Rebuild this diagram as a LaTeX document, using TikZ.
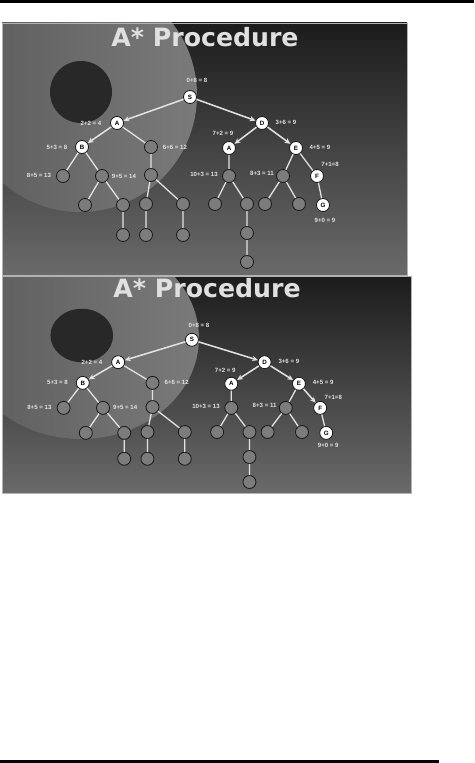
\documentclass[tikz,border=0pt]{standalone}
\usepackage{fontspec}
\setmainfont{Liberation Sans}
\newfontfamily\titlefont{DejaVu Sans}
\usetikzlibrary{arrows.meta}
\definecolor{SlideTop}{RGB}{28,28,28}
\definecolor{SlideLow}{RGB}{106,106,106}
\definecolor{DiscLeft}{RGB}{92,92,92}
\definecolor{DiscRight}{RGB}{122,122,122}
\definecolor{HoleGray}{RGB}{40,40,40}
\definecolor{LineWhite}{RGB}{226,226,226}
\definecolor{NodeGray}{RGB}{124,124,124}
\definecolor{RimDark}{RGB}{25,25,25}
\tikzset{
  wnode/.style={circle,draw=RimDark,fill=white,line width=0.7pt,minimum size=0.39cm,inner sep=0pt,font=\fontsize{5.3}{5.3}\selectfont\bfseries},
  gnode/.style={circle,draw=RimDark,fill=NodeGray,line width=0.7pt,minimum size=0.39cm,inner sep=0pt},
  lbl/.style={text=LineWhite,inner sep=0pt,font=\fontsize{5.2}{5.2}\selectfont\bfseries},
  ttl/.style={text=white!88!black,inner sep=0pt,font=\titlefont\bfseries\fontsize{21.5}{22}\selectfont},
  edge/.style={LineWhite,line width=1.1pt},
  arr/.style={-{Stealth[length=5pt,width=4.5pt]},LineWhite,line width=1.3pt},
}
% one slide: #1 = height, #2 = style of the E--F connector
\newcommand{\astarslide}[2]{%
  \begin{scope}
    \clip (0,0) rectangle (405,#1);
    \shade[top color=SlideTop,bottom color=SlideLow] (0,0) rectangle (405,#1);
    \shade[left color=DiscLeft,right color=DiscRight] (78,72) circle (117);
    \fill[HoleGray] (79,69) circle (31);
  \end{scope}
  \draw[black!30,line width=0.6pt] (0,0) rectangle (405,#1);
  \node[ttl] (title) at (203,14) {A* Procedure};
  % tree
  \node[wnode] (s)  at (188,74)  {S};
  \node[wnode] (a)  at (115,100) {A};
  \node[wnode] (d)  at (260,100) {D};
  \node[wnode] (b)  at (80,124)  {B};
  \node[gnode] (ag) at (149,124) {};
  \node[wnode] (da) at (227,125) {A};
  \node[wnode] (e)  at (294,125) {E};
  \node[gnode] (bl)  at (61,153)  {};
  \node[gnode] (br)  at (100,153) {};
  \node[gnode] (agc) at (149,152) {};
  \node[gnode] (dac) at (227,153) {};
  \node[gnode] (eg)  at (281,153) {};
  \node[wnode] (f)   at (315,153) {F};
  \node[gnode] (brl) at (83,182)  {};
  \node[gnode] (brr) at (121,182) {};
  \node[gnode] (agl) at (144,181) {};
  \node[gnode] (agr) at (181,181) {};
  \node[gnode] (dal) at (213,181) {};
  \node[gnode] (dar) at (245,181) {};
  \node[gnode] (egl) at (263,181) {};
  \node[gnode] (egr) at (297,181) {};
  \node[wnode] (g)   at (321,182) {G};
  \node[gnode] (brrc)  at (121,212) {};
  \node[gnode] (aglc)  at (144,212) {};
  \node[gnode] (agrc)  at (181,212) {};
  \node[gnode] (darc)  at (245,210) {};
  \node[gnode] (darcc) at (245,239) {};
  % f-values
  \node[lbl] (ls)  at (195,57)  {0+8 = 8};
  \node[lbl] (la)  at (89,100)  {2+2 = 4};
  \node[lbl] (ld)  at (284,99)  {3+6 = 9};
  \node[lbl] (lb)  at (55,124)  {5+3 = 8};
  \node[lbl] (lag) at (173,124) {6+6 = 12};
  \node[lbl] (lda) at (221,110) {7+2 = 9};
  \node[lbl] (le)  at (318,124) {4+5 = 9};
  \node[lbl] (lbl) at (37,152)  {8+5 = 13};
  \node[lbl] (lbr) at (122,153) {9+5 = 14};
  \node[lbl] (ldac) at (202,151) {10+3 = 13};
  \node[lbl] (leg) at (260,150) {8+3 = 11};
  \node[lbl] (lf)  at (328,141) {7+1=8};
  \node[lbl] (lg)  at (323,197) {9+0 = 9};
  % connectors
  \draw[arr] (s)--(a);
  \draw[arr] (s)--(d);
  \draw[arr] (a)--(b);
  \draw[arr] (d)--(da);
  \draw[arr] (d)--(e);
  \draw[#2] (e)--(f);
  \draw[edge] (a)--(ag) (b)--(bl) (b)--(br) (ag)--(agc) (da)--(dac) (e)--(eg)
    (f)--(g) (br)--(brl) (br)--(brr) (agc)--(agl) (agc)--(agr) (dac)--(dal)
    (dac)--(dar) (eg)--(egl) (eg)--(egr) (brr)--(brrc) (agl)--(aglc)
    (agr)--(agrc) (dar)--(darc) (darc)--(darcc);
}

\begin{document}
\begin{tikzpicture}[x=0.03cm,y=-0.03cm]
  \useasboundingbox (0,0) rectangle (474,763);
  \draw[line width=2.3pt] (0,1.3)--(474,1.3);
  \begin{scope}[shift={(2,23)},name prefix=one-]
    \astarslide{252}{edge}
  \end{scope}
  \begin{scope}[shift={(2,276)},xscale=1.01,yscale=0.862,name prefix=two-]
    \astarslide{252}{arr}
  \end{scope}
  \draw[line width=2.3pt] (0,761.7)--(439,761.7);
\end{tikzpicture}
\end{document}
